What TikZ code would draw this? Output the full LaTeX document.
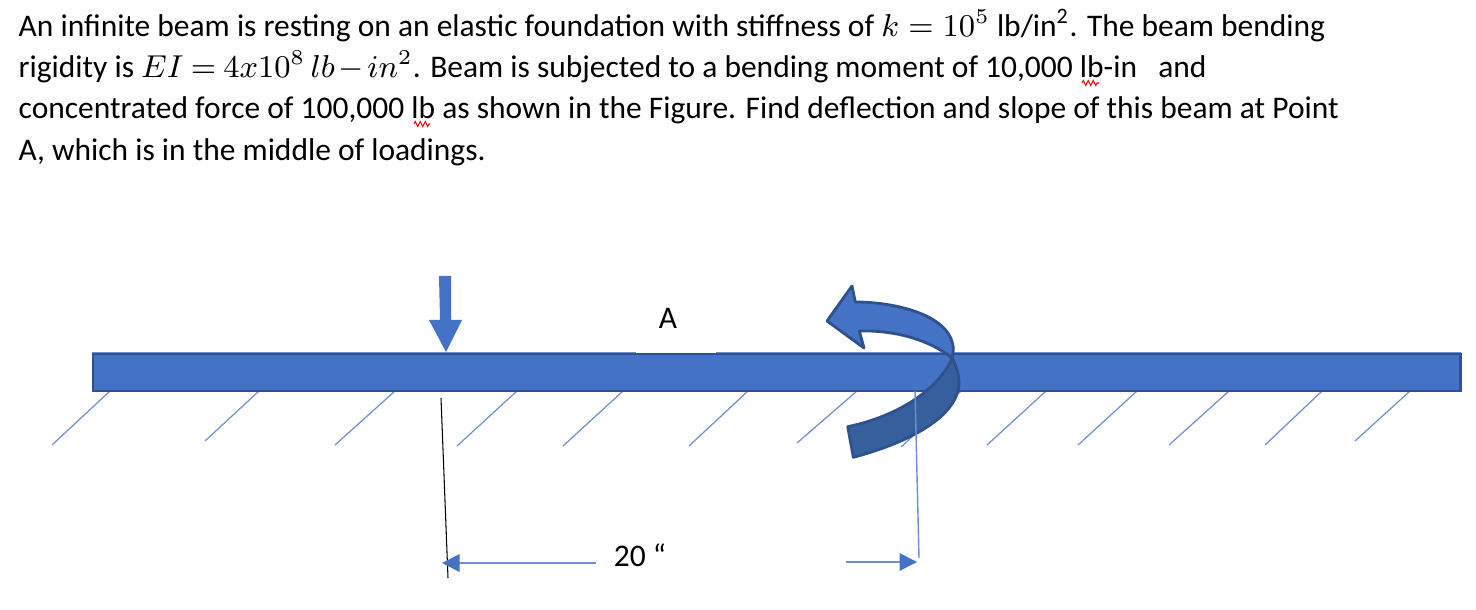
\documentclass[tikz,border=0pt]{standalone}
\usepackage{fontspec}
\setmainfont{Carlito}
\usetikzlibrary{arrows.meta,decorations.pathmorphing}
\definecolor{beamblue}{HTML}{4472C4}
\definecolor{beamedge}{HTML}{2F528F}
\definecolor{beamdark}{HTML}{365F9E}
\definecolor{hatchblue}{HTML}{6F8FD0}
\tikzset{
    textline/.style={anchor=base west,inner sep=0pt,font=\fontsize{8.95}{10}\selectfont},
    label/.style={inner sep=0pt,font=\fontsize{8.95}{10}\selectfont},
    hatch/.style={hatchblue,line width=0.35pt},
    dimline/.style={hatchblue,line width=0.45pt,-{Triangle[length=1.75mm,width=1.75mm,fill=beamblue,color=beamblue]}},
    squiggle/.style={red,line width=0.3pt,decorate,decoration={zigzag,amplitude=0.25mm,segment length=0.5mm}}
}
\begin{document}
\begin{tikzpicture}[x=0.01cm,y=-0.01cm]
    \useasboundingbox (0,0) rectangle (1476,610);
    \node[textline] (line1) at (18,37) {An infinite beam is resting on an elastic foundation with stiffness of $k=10^5$ lb/in\textsuperscript{2}. The beam bending};
    \node[textline] (line2) at (18,78) {rigidity is $\thickmuskip=4mu\medmuskip=2mu EI=4x10^8\,lb-in^2$. Beam is subjected to a bending moment of 10,000 lb-in\ \ \hspace{2pt}and};
    \node[textline] (line3) at (18,119) {concentrated force of 100,000 lb as shown in the Figure. Find deflection and slope of this beam at Point};
    \node[textline] (line4) at (18,161) {A, which is in the middle of loadings.};
    \draw[squiggle] (414,124) -- (430,124);
    \draw[squiggle] (1082,83) -- (1099,83);
    % hatching under the beam
    \foreach \xa/\ya/\xb in {52/445/110,205/441/259,335/445/395,457/446/517,563/446/623,689/446/748,797/443/857,901/447/961,987/445/1046,1078/445/1137,1169/445/1229,1265/445/1322,1355/441/1410}
        \draw[hatch] (\xa,\ya) -- (\xb,391);
    \node[draw=beamedge,line width=0.8pt,fill=beamblue,inner sep=0pt,outer sep=0pt,minimum width=13.67cm,minimum height=0.37cm,anchor=north west] (beam) at (93,354) {};
    \draw[hatchblue,line width=0.3pt] (92,352.3) -- (636,352.3) (716,352.3) -- (1461,352.3);
    \node[label] (labelA) at (668,318) {A};
    % point load
    \fill[beamblue] (439,276) -- (451,276) -- (451,320) -- (462,320) -- (446,352) -- (429,320) -- (440,320) -- cycle;
    % moment
    \filldraw[fill=beamblue,draw=beamedge,line width=0.8pt,line join=round] (855.3,302) .. controls (895,302) and (953,315) .. (953.3,350) -- (952.3,358.3) .. controls (930,340) and (895,330) .. (859.3,331) -- (864,348) -- (827,321) -- (852,286) -- cycle;
    \filldraw[fill=beamdark,draw=beamedge,line width=0.8pt,line join=round] (952.3,358.3) .. controls (957,368) and (959,375) .. (959,383) .. controls (958,420) and (900,445) .. (853.3,457.3) -- (847.7,426.7) .. controls (890,418) and (935,395) .. cycle;
    % dimension
    \draw[black,line width=0.3pt] (441,398) -- (448,578);
    \draw[hatchblue,line width=0.4pt] (915,391) -- (919,558);
    \node[label] (dimtext) at (640,555) {20 “};
    \coordinate (dimleft) at (596,563);
    \coordinate (dimlefttip) at (442,563);
    \coordinate (dimright) at (846,562);
    \coordinate (dimrighttip) at (917,562);
    \draw[dimline] (dimleft) -- (dimlefttip);
    \draw[dimline] (dimright) -- (dimrighttip);
\end{tikzpicture}
\end{document}
